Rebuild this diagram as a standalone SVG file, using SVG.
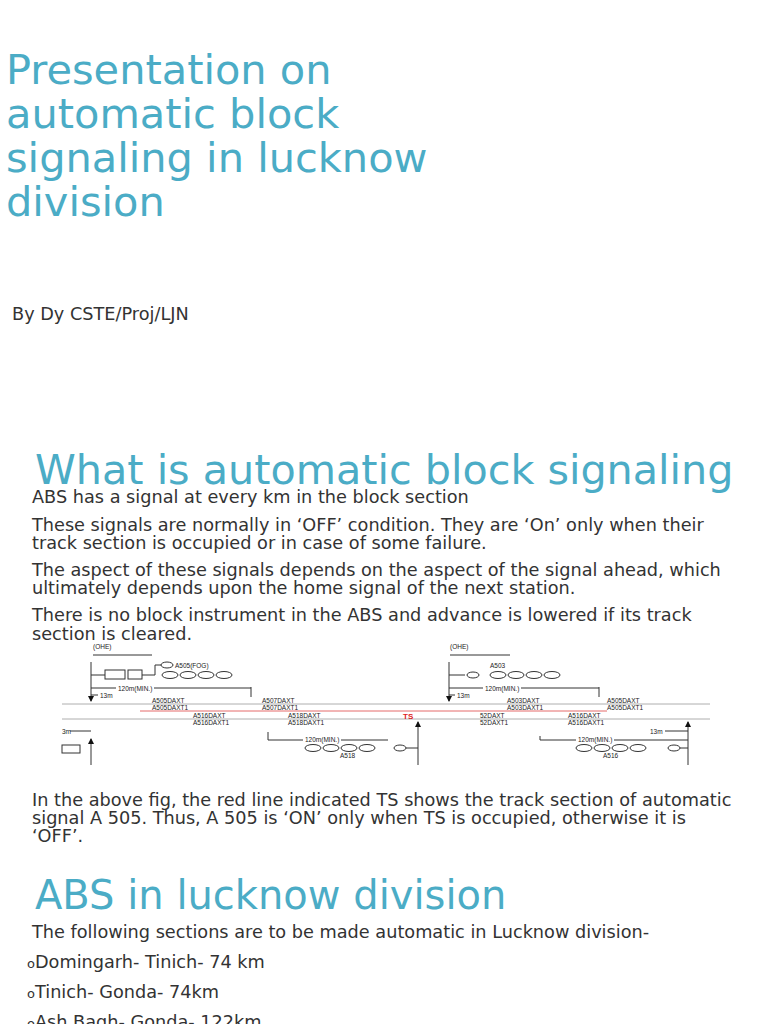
<svg xmlns="http://www.w3.org/2000/svg" width="768" height="1024" viewBox="0 0 768 1024">
<defs>
<style>
.h{font-family:"DejaVu Sans",sans-serif;fill:#4bacc6}
.b{font-family:"DejaVu Sans",sans-serif;fill:#333;font-size:17.7px}
.f{font-family:"Liberation Sans",sans-serif;fill:#222;font-size:6.5px}
.l{stroke:#333;stroke-width:1;fill:none}
.r{stroke:#999;stroke-width:0.8}
</style>
<marker id="a" markerWidth="6" markerHeight="6" refX="5" refY="3" orient="auto"><path d="M0,0 L6,3 L0,6z" fill="#111"/></marker>
</defs>
<rect width="768" height="1024" fill="#fff"/>
<g id="title" class="h" font-size="41.5">
<text x="6" y="84">Presentation on</text>
<text x="6" y="128">automatic block</text>
<text x="6" y="172">signaling in lucknow</text>
<text x="6" y="216">division</text>
</g>
<text class="b" x="12" y="320" font-size="21">By Dy CSTE/Proj/LJN</text>
<text class="h" x="35" y="484" font-size="41.3">What is automatic block signaling</text>
<g id="body1" class="b">
<text x="32" y="503">ABS has a signal at every km in the block section</text>
<text x="32" y="531">These signals are normally in ‘OFF’ condition. They are ‘On’ only when their</text>
<text x="32" y="549">track section is occupied or in case of some failure.</text>
<text x="32" y="576">The aspect of these signals depends on the aspect of the signal ahead, which</text>
<text x="32" y="594">ultimately depends upon the home signal of the next station.</text>
<text x="32" y="621">There is no block instrument in the ABS and advance is lowered if its track</text>
<text x="32" y="640">section is cleared.</text>
</g>
<g id="figure">
<line class="r" x1="62" y1="704" x2="710" y2="704"/>
<line class="r" x1="62" y1="719" x2="710" y2="719"/>
<line x1="140" y1="711" x2="607" y2="711" stroke="#d44" stroke-width="0.8"/>
<text x="403" y="719" font-family="Liberation Sans,sans-serif" font-size="8" font-weight="bold" fill="#d22">TS</text>
<g class="f">
<text x="93" y="649">(OHE)</text><text x="450" y="649">(OHE)</text>
<text x="175" y="668">A505(FOG)</text><text x="490" y="668">A503</text>
<text x="118" y="691">120m(MIN.)</text><text x="485" y="691">120m(MIN.)</text>
<text x="100" y="698">13m</text><text x="457" y="698">13m</text>
<text x="152" y="703">A505DAXT</text><text x="152" y="709.5">A505DAXT1</text>
<text x="262" y="703">A507DAXT</text><text x="262" y="709.5">A507DAXT1</text>
<text x="507" y="703">A503DAXT</text><text x="507" y="709.5">A503DAXT1</text>
<text x="607" y="703">A505DAXT</text><text x="607" y="709.5">A505DAXT1</text>
<text x="193" y="717.5">A516DAXT</text><text x="193" y="725">A516DAXT1</text>
<text x="288" y="717.5">A518DAXT</text><text x="288" y="725">A518DAXT1</text>
<text x="480" y="717.5">52DAXT</text><text x="480" y="725">52DAXT1</text>
<text x="568" y="717.5">A516DAXT</text><text x="568" y="725">A516DAXT1</text>
<text x="62" y="734">3m</text><text x="650" y="734">13m</text>
<text x="305" y="742">120m(MIN.)</text><text x="578" y="742">120m(MIN.)</text>
<text x="340" y="758">A518</text><text x="603" y="758">A516</text>
</g>
<g class="l">
<line x1="93" y1="655" x2="152" y2="655"/><line x1="450" y1="655" x2="510" y2="655"/>
<line x1="91" y1="662" x2="91" y2="701" marker-end="url(#a)"/>
<line x1="449" y1="662" x2="449" y2="701" marker-end="url(#a)"/>
<line x1="91" y1="765" x2="91" y2="739" marker-end="url(#a)"/>
<line x1="418" y1="765" x2="418" y2="722" marker-end="url(#a)"/>
<line x1="688" y1="765" x2="688" y2="722" marker-end="url(#a)"/>
<rect x="105" y="670" width="20" height="9"/><rect x="128" y="670" width="14" height="9"/>
<line x1="91" y1="675" x2="105" y2="675"/><line x1="142" y1="675" x2="155" y2="675"/>
<line x1="155" y1="665" x2="155" y2="675"/>
<ellipse cx="167" cy="665" rx="6" ry="3"/><line x1="155" y1="665" x2="161" y2="665"/>
<ellipse cx="170" cy="675" rx="8" ry="3.5"/><ellipse cx="188" cy="675" rx="8" ry="3.5"/><ellipse cx="206" cy="675" rx="8" ry="3.5"/><ellipse cx="224" cy="675" rx="8" ry="3.5"/>
<line x1="449" y1="675" x2="465" y2="675"/>
<ellipse cx="473" cy="675" rx="6" ry="3"/>
<ellipse cx="498" cy="675" rx="8" ry="3.5"/><ellipse cx="516" cy="675" rx="8" ry="3.5"/><ellipse cx="534" cy="675" rx="8" ry="3.5"/><ellipse cx="552" cy="675" rx="8" ry="3.5"/>
<line x1="91" y1="688" x2="116" y2="688"/><line x1="154" y1="688" x2="251" y2="688"/><line x1="251" y1="687" x2="251" y2="697"/>
<line x1="449" y1="688" x2="483" y2="688"/><line x1="521" y1="688" x2="599" y2="688"/><line x1="599" y1="687" x2="599" y2="697"/>
<line x1="91" y1="695" x2="98" y2="695"/><line x1="449" y1="695" x2="455" y2="695"/>
<line x1="70" y1="731" x2="91" y2="731"/><line x1="665" y1="731" x2="688" y2="731"/>
<rect x="62" y="745" width="18" height="8"/>
<line x1="268" y1="732" x2="268" y2="740"/><line x1="268" y1="740" x2="303" y2="740"/><line x1="341" y1="740" x2="388" y2="740"/>
<line x1="540" y1="736" x2="540" y2="740"/><line x1="540" y1="740" x2="576" y2="740"/><line x1="614" y1="740" x2="688" y2="740"/>
<ellipse cx="313" cy="748" rx="8" ry="3.5"/><ellipse cx="331" cy="748" rx="8" ry="3.5"/><ellipse cx="349" cy="748" rx="8" ry="3.5"/><ellipse cx="367" cy="748" rx="8" ry="3.5"/>
<ellipse cx="584" cy="748" rx="8" ry="3.5"/><ellipse cx="602" cy="748" rx="8" ry="3.5"/><ellipse cx="620" cy="748" rx="8" ry="3.5"/><ellipse cx="638" cy="748" rx="8" ry="3.5"/>
<ellipse cx="674" cy="748" rx="6" ry="3"/><line x1="680" y1="748" x2="688" y2="748"/>
<ellipse cx="400" cy="748" rx="6" ry="3"/><line x1="406" y1="748" x2="418" y2="748"/>
</g>
</g>
<g id="body2" class="b">
<text x="32" y="806">In the above fig, the red line indicated TS shows the track section of automatic</text>
<text x="32" y="824">signal A 505. Thus, A 505 is ‘ON’ only when TS is occupied, otherwise it is</text>
<text x="32" y="842">‘OFF’.</text>
</g>
<text class="h" x="35" y="909" font-size="40">ABS in lucknow division</text>
<g id="body3" class="b" font-size="20.6">
<text x="32" y="938">The following sections are to be made automatic in Lucknow division-</text>
<text x="27" y="968"><tspan font-size="13">o</tspan>Domingarh- Tinich- 74 km</text>
<text x="27" y="998"><tspan font-size="13">o</tspan>Tinich- Gonda- 74km</text>
<text x="27" y="1028"><tspan font-size="13">o</tspan>Ash Bagh- Gonda- 122km</text>
</g>
</svg>
